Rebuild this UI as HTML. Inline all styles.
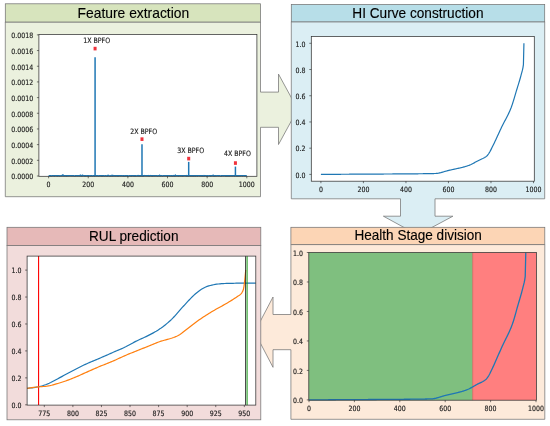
<!DOCTYPE html>
<html lang="en"><head><meta charset="utf-8"><title>Framework</title>
<style>
html,body{margin:0;padding:0;background:#fff;}
body{width:550px;height:426px;overflow:hidden;}
svg{display:block;}
.t{font-family:"Liberation Sans","DejaVu Sans",sans-serif;fill:#000;stroke:#000;stroke-width:0.12;}
.k{font-family:"DejaVu Sans","Liberation Sans",sans-serif;fill:#1a1a1a;stroke:#1a1a1a;stroke-width:0.15;}
.sp{fill:none;stroke:#333;stroke-width:0.75;}
.tk{stroke:#222;stroke-width:0.6;fill:none;}
</style></head><body>
<svg width="550" height="426" viewBox="0 0 550 426">
<rect width="550" height="426" fill="#fff"/>

<path d="M5.3 22 L260.5 22 L260.5 92.1 L278.5 92.1 L278.5 74.1 L297.7 109.3 L278.5 144.5 L278.5 127.3 L260.5 127.3 L260.5 196.7 L5.3 196.7 Z" fill="#EBF1DE" stroke="#747474" stroke-width="0.75" stroke-linejoin="miter"/>
<rect x="5.3" y="3.8" width="255.2" height="18.2" fill="#D7E4BD" stroke="#747474" stroke-width="0.75"/>
<text class="t" x="77.6" y="18.3" font-size="14.2" textLength="111.6" lengthAdjust="spacingAndGlyphs">Feature extraction</text>
<rect x="38.9" y="34.4" width="218" height="141.9" fill="#fff"/>
<path d="M48.6 175.59 L49 175.75 L49.39 175.79 L49.79 175.58 L50.19 175.77 L50.58 175.76 L50.98 175.79 L51.37 175.73 L51.77 175.79 L52.17 175.74 L52.56 175.65 L52.96 175.7 L53.36 175.7 L53.75 175.6 L54.15 175.79 L54.55 175.75 L54.94 175.74 L55.34 175.62 L55.74 175.68 L56.13 175.67 L56.53 175.66 L56.92 175.78 L57.32 175.63 L57.72 175.77 L58.11 175.68 L58.51 175.72 L58.91 175.73 L59.3 175.78 L59.7 175.71 L60.1 175.77 L60.49 175.71 L60.89 175.57 L61.28 175.65 L61.68 175.73 L62.08 175.71 L62.47 174.89 L62.87 175.69 L63.27 175.05 L63.66 175.67 L64.06 175.78 L64.46 175.61 L64.85 175.72 L65.25 175.76 L65.65 175.6 L66.04 175.73 L66.44 175.73 L66.83 175.7 L67.23 175.8 L67.63 175.54 L68.02 175.77 L68.42 175.68 L68.82 175.7 L69.21 175.67 L69.61 175.67 L70.01 175.63 L70.4 175.67 L70.8 175.7 L71.19 175.58 L71.59 175.73 L71.99 175.57 L72.38 175.68 L72.78 175.64 L73.18 175.78 L73.57 175.59 L73.97 175.72 L74.37 175.78 L74.76 175.78 L75.16 175.67 L75.56 175.75 L75.95 175.57 L76.35 175.68 L76.74 175.69 L77.14 175.78 L77.54 175.59 L77.93 175.74 L78.33 175.72 L78.73 175.72 L79.12 175.77 L79.52 175.64 L79.92 175.64 L80.31 175.01 L80.71 175.77 L81.1 175.73 L81.5 175.7 L81.9 175.78 L82.29 175.04 L82.69 175.8 L83.09 175.7 L83.48 175.46 L83.88 175.69 L84.28 175.73 L84.67 175.74 L85.07 175.69 L85.47 175.76 L85.86 175.73 L86.26 175.79 L86.65 175.72 L87.05 175.7 L87.45 175.76 L87.84 175.55 L88.24 175.7 L88.64 175.65 L89.03 175.79 L89.43 175.73 L89.83 175.65 L90.22 175.78 L90.62 175.74 L91.01 175.71 L91.41 175.72 L91.81 175.76 L92.2 175.74 L92.6 175.78 L93 175.75 L93.39 175.71 L93.79 175.72 L94.19 175.74 L94.58 175.7 L94.98 175.74 L95.38 175.7 L95.77 175.64 L96.17 175.72 L96.56 175.75 L96.96 175.71 L97.36 175.59 L97.75 175.77 L98.15 175.77 L98.55 175.79 L98.94 175.77 L99.34 175.72 L99.74 175.71 L100.13 175.78 L100.53 175.58 L100.92 175.7 L101.32 175.74 L101.72 175.73 L102.11 175.74 L102.51 175.75 L102.91 175.7 L103.3 175.74 L103.7 175.6 L104.1 175.69 L104.49 175.79 L104.89 175.78 L105.29 175.65 L105.68 175.72 L106.08 175.71 L106.47 175.75 L106.87 175.78 L107.27 175.7 L107.66 175.74 L108.06 175.07 L108.46 175.67 L108.85 175.66 L109.25 175.79 L109.65 175.8 L110.04 175.75 L110.44 175.71 L110.83 175.8 L111.23 175.78 L111.63 175.68 L112.02 175.08 L112.42 175.79 L112.82 175.77 L113.21 175.65 L113.61 175.49 L114.01 175.79 L114.4 175.63 L114.8 175.63 L115.2 175.67 L115.59 175.76 L115.99 175.7 L116.38 175.72 L116.78 175.75 L117.18 175.74 L117.57 175.78 L117.97 175.61 L118.37 175.65 L118.76 175.78 L119.16 175.68 L119.56 175.73 L119.95 175.6 L120.35 175.72 L120.74 175.74 L121.14 175.79 L121.54 175.56 L121.93 175.69 L122.33 175.68 L122.73 175.77 L123.12 175.72 L123.52 175.73 L123.92 175.73 L124.31 175.62 L124.71 175.78 L125.11 175.77 L125.5 175.75 L125.9 175.71 L126.29 175.57 L126.69 175.66 L127.09 175.79 L127.48 175.74 L127.88 175.76 L128.28 175.78 L128.67 175.8 L129.07 175.74 L129.47 175.71 L129.86 175.64 L130.26 175.67 L130.65 175.79 L131.05 175.75 L131.45 175.75 L131.84 175.73 L132.24 175.58 L132.64 175.75 L133.03 175.57 L133.43 175.76 L133.83 175.77 L134.22 175.67 L134.62 175.8 L135.02 175.75 L135.41 175.77 L135.81 175.74 L136.2 175.78 L136.6 175.72 L137 175.61 L137.39 175.78 L137.79 175.6 L138.19 175.48 L138.58 175.8 L138.98 175.73 L139.38 175.77 L139.77 175.67 L140.17 175.72 L140.56 175.77 L140.96 175.75 L141.36 175.47 L141.75 175.77 L142.15 175.76 L142.55 175.75 L142.94 175.78 L143.34 175.65 L143.74 175.78 L144.13 175.51 L144.53 175.67 L144.93 175.72 L145.32 175.67 L145.72 175.58 L146.11 175.73 L146.51 175.56 L146.91 175.67 L147.3 175.78 L147.7 175.6 L148.1 175.52 L148.49 175.73 L148.89 175.77 L149.29 175.69 L149.68 175.78 L150.08 175.72 L150.47 175.72 L150.87 175.48 L151.27 175.73 L151.66 175.79 L152.06 175.65 L152.46 175.77 L152.85 175.7 L153.25 175.76 L153.65 175.61 L154.04 175.63 L154.44 175.71 L154.84 175.79 L155.23 175.66 L155.63 175.67 L156.02 175.7 L156.42 175.61 L156.82 175.74 L157.21 175.72 L157.61 175.79 L158.01 175.69 L158.4 175.58 L158.8 175.79 L159.2 175.73 L159.59 175.14 L159.99 175.79 L160.38 175.73 L160.78 175.7 L161.18 175.58 L161.57 175.53 L161.97 175.78 L162.37 175.8 L162.76 175.77 L163.16 175.65 L163.56 175.58 L163.95 175.66 L164.35 175.73 L164.75 175.68 L165.14 175.67 L165.54 175.61 L165.93 175.76 L166.33 175.66 L166.73 175.62 L167.12 175.69 L167.52 175.68 L167.92 175.68 L168.31 175.73 L168.71 175.64 L169.11 175.7 L169.5 175.62 L169.9 175.79 L170.29 175.76 L170.69 175.72 L171.09 175.61 L171.48 175.77 L171.88 175.75 L172.28 175.7 L172.67 175.8 L173.07 175.78 L173.47 175.53 L173.86 175.77 L174.26 175.59 L174.66 175.8 L175.05 175.63 L175.45 174.94 L175.84 175.76 L176.24 175.7 L176.64 175.69 L177.03 175.64 L177.43 175.53 L177.83 175.76 L178.22 175.69 L178.62 175.79 L179.02 175.71 L179.41 175.69 L179.81 175.62 L180.2 175.77 L180.6 175.57 L181 175.73 L181.39 175.56 L181.79 175.77 L182.19 175.75 L182.58 175.75 L182.98 175.7 L183.38 175.79 L183.77 175.54 L184.17 175.7 L184.57 175.61 L184.96 175.65 L185.36 175.62 L185.75 175.76 L186.15 175.45 L186.55 175.77 L186.94 175.79 L187.34 175.68 L187.74 175.76 L188.13 175.78 L188.53 175.69 L188.93 175.79 L189.32 175.77 L189.72 175.57 L190.11 175.66 L190.51 175.74 L190.91 175.77 L191.3 175.8 L191.7 175.62 L192.1 175.7 L192.49 175.77 L192.89 175.77 L193.29 175.77 L193.68 175.74 L194.08 175.73 L194.48 175.63 L194.87 175.76 L195.27 175.67 L195.66 175.8 L196.06 175.62 L196.46 175.64 L196.85 175.74 L197.25 175.75 L197.65 175.77 L198.04 175.66 L198.44 175.67 L198.84 175.64 L199.23 175.68 L199.63 175.77 L200.02 175.58 L200.42 175.79 L200.82 175.65 L201.21 175.67 L201.61 175.76 L202.01 175.76 L202.4 175.73 L202.8 175.74 L203.2 175.8 L203.59 175.77 L203.99 175.49 L204.39 175.75 L204.78 175.79 L205.18 175.67 L205.57 175.56 L205.97 175.72 L206.37 175.79 L206.76 175.69 L207.16 175.79 L207.56 175.71 L207.95 175.65 L208.35 175.7 L208.75 175.77 L209.14 175.7 L209.54 175.58 L209.93 175.77 L210.33 175.74 L210.73 175.72 L211.12 175.76 L211.52 175.72 L211.92 175.7 L212.31 175.67 L212.71 175.71 L213.11 175.03 L213.5 175.75 L213.9 175.76 L214.3 175.75 L214.69 175.79 L215.09 175.66 L215.48 175.8 L215.88 175.58 L216.28 175.77 L216.67 175.72 L217.07 175.62 L217.47 175.71 L217.86 175.69 L218.26 175.6 L218.66 175.74 L219.05 175.68 L219.45 175.66 L219.84 175.66 L220.24 175.8 L220.64 175.79 L221.03 175.78 L221.43 175.61 L221.83 175.76 L222.22 175.68 L222.62 175.65 L223.02 175.58 L223.41 175.76 L223.81 175.58 L224.21 175.72 L224.6 175.64 L225 175.71 L225.39 175.76 L225.79 175.74 L226.19 175.79 L226.58 175.66 L226.98 175.77 L227.38 175.77 L227.77 175.69 L228.17 175.77 L228.57 175.75 L228.96 175.65 L229.36 175.75 L229.75 175.73 L230.15 175.74 L230.55 175.63 L230.94 175.73 L231.34 175.58 L231.74 175.69 L232.13 175.8 L232.53 175.67 L232.93 175.73 L233.32 175.62 L233.72 175.69 L234.12 175.73 L234.51 175.8 L234.91 175.7 L235.3 175.71 L235.7 175.69 L236.1 175.69 L236.49 175.76 L236.89 175.73 L237.29 175.74 L237.68 175.78 L238.08 175.64 L238.48 175.79 L238.87 175.69 L239.27 175.7 L239.66 175.73 L240.06 175.71 L240.46 175.76 L240.85 175.59 L241.25 175.69 L241.65 175.66 L242.04 175.63 L242.44 175.78 L242.84 175.66 L243.23 175.67 L243.63 175.59 L244.03 175.76 L244.42 175.67 L244.82 175.64 L245.21 175.77 L245.61 175.72 L246.01 175.7 L246.4 175.57 L246.8 175.59" fill="none" stroke="#1f77b4" stroke-width="1.3" stroke-linejoin="round" stroke-linecap="butt"/>
<path d="M95.08 176 L95.08 57.22" fill="none" stroke="#1f77b4" stroke-width="1.5" stroke-linejoin="round" stroke-linecap="butt"/>
<rect x="93.58" y="46.8" width="3" height="3.6" fill="#f0323c"/>
<path d="M141.99 176 L141.99 144.17" fill="none" stroke="#1f77b4" stroke-width="1.5" stroke-linejoin="round" stroke-linecap="butt"/>
<rect x="140.49" y="137.35" width="3" height="3.6" fill="#f0323c"/>
<path d="M188.69 176 L188.69 161.89" fill="none" stroke="#1f77b4" stroke-width="1.5" stroke-linejoin="round" stroke-linecap="butt"/>
<rect x="187.19" y="156.8" width="3" height="3.6" fill="#f0323c"/>
<path d="M235.42 176 L235.42 166.59" fill="none" stroke="#1f77b4" stroke-width="1.5" stroke-linejoin="round" stroke-linecap="butt"/>
<rect x="233.92" y="161.26" width="3" height="3.6" fill="#f0323c"/>
<text class="k" transform="translate(96.7 43.3) scale(0.85 1)" font-size="7.4" text-anchor="middle">1X BPFO</text>
<text class="k" transform="translate(143.7 133.5) scale(0.85 1)" font-size="7.4" text-anchor="middle">2X BPFO</text>
<text class="k" transform="translate(190.7 152.5) scale(0.85 1)" font-size="7.4" text-anchor="middle">3X BPFO</text>
<text class="k" transform="translate(237.4 156.1) scale(0.85 1)" font-size="7.4" text-anchor="middle">4X BPFO</text>
<rect class="sp" x="38.9" y="34.4" width="218" height="141.9"/>
<path class="tk" d="M48.6 176.3 v2"/>
<text class="k" transform="translate(48.6 186.7) scale(0.85 1)" font-size="7.4" text-anchor="middle">0</text>
<path class="tk" d="M88.24 176.3 v2"/>
<text class="k" transform="translate(88.24 186.7) scale(0.85 1)" font-size="7.4" text-anchor="middle">200</text>
<path class="tk" d="M127.88 176.3 v2"/>
<text class="k" transform="translate(127.88 186.7) scale(0.85 1)" font-size="7.4" text-anchor="middle">400</text>
<path class="tk" d="M167.52 176.3 v2"/>
<text class="k" transform="translate(167.52 186.7) scale(0.85 1)" font-size="7.4" text-anchor="middle">600</text>
<path class="tk" d="M207.16 176.3 v2"/>
<text class="k" transform="translate(207.16 186.7) scale(0.85 1)" font-size="7.4" text-anchor="middle">800</text>
<path class="tk" d="M246.8 176.3 v2"/>
<text class="k" transform="translate(246.8 186.7) scale(0.85 1)" font-size="7.4" text-anchor="middle">1000</text>
<path class="tk" d="M38.9 176 h-2"/>
<text class="k" transform="translate(33.2 179.3) scale(0.85 1)" font-size="7.4" text-anchor="end">0.0000</text>
<path class="tk" d="M38.9 160.32 h-2"/>
<text class="k" transform="translate(33.2 163.62) scale(0.85 1)" font-size="7.4" text-anchor="end">0.0002</text>
<path class="tk" d="M38.9 144.64 h-2"/>
<text class="k" transform="translate(33.2 147.94) scale(0.85 1)" font-size="7.4" text-anchor="end">0.0004</text>
<path class="tk" d="M38.9 128.96 h-2"/>
<text class="k" transform="translate(33.2 132.26) scale(0.85 1)" font-size="7.4" text-anchor="end">0.0006</text>
<path class="tk" d="M38.9 113.28 h-2"/>
<text class="k" transform="translate(33.2 116.58) scale(0.85 1)" font-size="7.4" text-anchor="end">0.0008</text>
<path class="tk" d="M38.9 97.6 h-2"/>
<text class="k" transform="translate(33.2 100.9) scale(0.85 1)" font-size="7.4" text-anchor="end">0.0010</text>
<path class="tk" d="M38.9 81.92 h-2"/>
<text class="k" transform="translate(33.2 85.22) scale(0.85 1)" font-size="7.4" text-anchor="end">0.0012</text>
<path class="tk" d="M38.9 66.24 h-2"/>
<text class="k" transform="translate(33.2 69.54) scale(0.85 1)" font-size="7.4" text-anchor="end">0.0014</text>
<path class="tk" d="M38.9 50.56 h-2"/>
<text class="k" transform="translate(33.2 53.86) scale(0.85 1)" font-size="7.4" text-anchor="end">0.0016</text>
<path class="tk" d="M38.9 34.88 h-2"/>
<text class="k" transform="translate(33.2 38.18) scale(0.85 1)" font-size="7.4" text-anchor="end">0.0018</text>
<path d="M291.3 21.8 L544.7 21.8 L544.7 198.8 L435 198.8 L435 216.2 L452.9 216.2 L417.8 235 L383.4 216.2 L400.5 216.2 L400.5 198.8 L291.3 198.8 Z" fill="#DBEEF4" stroke="#747474" stroke-width="0.75" stroke-linejoin="miter"/>
<rect x="291.3" y="4.5" width="253.4" height="17.3" fill="#B7DEE8" stroke="#747474" stroke-width="0.75"/>
<text class="t" x="352.3" y="18.3" font-size="14.2" textLength="131.2" lengthAdjust="spacingAndGlyphs">HI Curve construction</text>
<rect x="311.3" y="36.5" width="223" height="144.7" fill="#fff"/>
<path d="M320.9 174.4 L321.41 174.4 L321.92 174.39 L322.43 174.39 L322.94 174.39 L323.44 174.38 L323.95 174.38 L324.46 174.38 L324.97 174.37 L325.48 174.37 L325.99 174.37 L326.5 174.37 L327.01 174.36 L327.52 174.36 L328.02 174.36 L328.53 174.35 L329.04 174.35 L329.55 174.35 L330.06 174.34 L330.57 174.34 L331.08 174.34 L331.59 174.33 L332.09 174.33 L332.6 174.33 L333.11 174.32 L333.62 174.32 L334.13 174.32 L334.64 174.32 L335.15 174.31 L335.66 174.31 L336.17 174.31 L336.67 174.3 L337.18 174.3 L337.69 174.3 L338.2 174.29 L338.71 174.29 L339.22 174.29 L339.73 174.28 L340.24 174.28 L340.75 174.28 L341.25 174.27 L341.76 174.27 L342.27 174.27 L342.78 174.27 L343.29 174.26 L343.8 174.26 L344.31 174.26 L344.82 174.25 L345.33 174.25 L345.83 174.25 L346.34 174.24 L346.85 174.24 L347.36 174.24 L347.87 174.23 L348.38 174.23 L348.89 174.23 L349.4 174.22 L349.9 174.22 L350.41 174.22 L350.92 174.21 L351.43 174.21 L351.94 174.21 L352.45 174.21 L352.96 174.2 L353.47 174.2 L353.98 174.2 L354.48 174.19 L354.99 174.19 L355.5 174.19 L356.01 174.18 L356.52 174.18 L357.03 174.18 L357.54 174.17 L358.05 174.17 L358.56 174.17 L359.06 174.16 L359.57 174.16 L360.08 174.16 L360.59 174.16 L361.1 174.15 L361.61 174.15 L362.12 174.15 L362.63 174.14 L363.13 174.14 L363.64 174.14 L364.15 174.13 L364.66 174.13 L365.17 174.13 L365.68 174.12 L366.19 174.12 L366.7 174.12 L367.21 174.12 L367.71 174.11 L368.22 174.11 L368.73 174.11 L369.24 174.1 L369.75 174.1 L370.26 174.1 L370.77 174.1 L371.28 174.09 L371.79 174.09 L372.29 174.09 L372.8 174.08 L373.31 174.08 L373.82 174.08 L374.33 174.08 L374.84 174.07 L375.35 174.07 L375.86 174.07 L376.37 174.06 L376.87 174.06 L377.38 174.06 L377.89 174.06 L378.4 174.05 L378.91 174.05 L379.42 174.05 L379.93 174.05 L380.44 174.04 L380.94 174.04 L381.45 174.04 L381.96 174.03 L382.47 174.03 L382.98 174.03 L383.49 174.03 L384 174.02 L384.51 174.02 L385.02 174.02 L385.52 174.02 L386.03 174.01 L386.54 174.01 L387.05 174.01 L387.56 174 L388.07 174 L388.58 174 L389.09 173.99 L389.6 173.99 L390.1 173.99 L390.61 173.99 L391.12 173.98 L391.63 173.98 L392.14 173.98 L392.65 173.97 L393.16 173.97 L393.67 173.97 L394.18 173.96 L394.68 173.96 L395.19 173.96 L395.7 173.95 L396.21 173.95 L396.72 173.95 L397.23 173.94 L397.74 173.94 L398.25 173.94 L398.75 173.93 L399.26 173.93 L399.77 173.92 L400.28 173.92 L400.79 173.92 L401.3 173.91 L401.81 173.91 L402.32 173.91 L402.83 173.9 L403.33 173.9 L403.84 173.89 L404.35 173.89 L404.86 173.88 L405.37 173.88 L405.88 173.88 L406.39 173.87 L406.9 173.87 L407.41 173.86 L407.91 173.86 L408.42 173.86 L408.93 173.85 L409.44 173.85 L409.95 173.84 L410.46 173.84 L410.97 173.84 L411.48 173.83 L411.98 173.83 L412.49 173.82 L413 173.82 L413.51 173.82 L414.02 173.81 L414.53 173.81 L415.04 173.8 L415.55 173.8 L416.06 173.8 L416.56 173.79 L417.07 173.79 L417.58 173.78 L418.09 173.78 L418.6 173.77 L419.11 173.77 L419.62 173.76 L420.13 173.76 L420.64 173.75 L421.14 173.75 L421.65 173.74 L422.16 173.74 L422.67 173.73 L423.18 173.72 L423.69 173.72 L424.2 173.71 L424.71 173.7 L425.22 173.7 L425.72 173.69 L426.23 173.68 L426.74 173.67 L427.25 173.66 L427.76 173.66 L428.27 173.65 L428.78 173.64 L429.29 173.63 L429.79 173.62 L430.3 173.61 L430.81 173.6 L431.32 173.59 L431.83 173.58 L432.34 173.56 L432.85 173.55 L433.36 173.54 L433.87 173.53 L434.37 173.51 L434.88 173.5 L435.39 173.49 L435.9 173.47 L436.41 173.43 L436.92 173.38 L437.43 173.32 L437.94 173.24 L438.45 173.16 L438.95 173.06 L439.46 172.95 L439.97 172.84 L440.48 172.71 L440.99 172.58 L441.5 172.45 L442.01 172.31 L442.52 172.16 L443.03 172.01 L443.53 171.86 L444.04 171.71 L444.55 171.55 L445.06 171.4 L445.57 171.25 L446.08 171.1 L446.59 170.96 L447.1 170.82 L447.6 170.68 L448.11 170.55 L448.62 170.43 L449.13 170.31 L449.64 170.19 L450.15 170.08 L450.66 169.96 L451.17 169.85 L451.68 169.74 L452.18 169.63 L452.69 169.52 L453.2 169.41 L453.71 169.3 L454.22 169.19 L454.73 169.08 L455.24 168.97 L455.75 168.86 L456.26 168.75 L456.76 168.64 L457.27 168.53 L457.78 168.42 L458.29 168.31 L458.8 168.2 L459.31 168.08 L459.82 167.96 L460.33 167.84 L460.84 167.72 L461.34 167.6 L461.85 167.47 L462.36 167.34 L462.87 167.21 L463.38 167.08 L463.89 166.94 L464.4 166.8 L464.91 166.66 L465.41 166.51 L465.92 166.36 L466.43 166.2 L466.94 166.04 L467.45 165.88 L467.96 165.71 L468.47 165.53 L468.98 165.35 L469.49 165.14 L469.99 164.93 L470.5 164.7 L471.01 164.47 L471.52 164.22 L472.03 163.97 L472.54 163.71 L473.05 163.44 L473.56 163.17 L474.07 162.9 L474.57 162.62 L475.08 162.34 L475.59 162.06 L476.1 161.78 L476.61 161.5 L477.12 161.22 L477.63 160.95 L478.14 160.68 L478.64 160.42 L479.15 160.17 L479.66 159.93 L480.17 159.7 L480.68 159.47 L481.19 159.25 L481.7 159.02 L482.21 158.78 L482.72 158.54 L483.22 158.29 L483.73 158.02 L484.24 157.74 L484.75 157.44 L485.26 157.12 L485.77 156.77 L486.28 156.4 L486.79 156 L487.3 155.5 L487.8 154.89 L488.31 154.2 L488.82 153.47 L489.33 152.68 L489.84 151.81 L490.35 150.86 L490.86 149.87 L491.37 148.86 L491.88 147.85 L492.38 146.85 L492.89 145.84 L493.4 144.8 L493.91 143.75 L494.42 142.69 L494.93 141.61 L495.44 140.53 L495.95 139.43 L496.45 138.33 L496.96 137.23 L497.47 136.12 L497.98 135.01 L498.49 133.9 L499 132.79 L499.51 131.69 L500.02 130.59 L500.53 129.5 L501.03 128.41 L501.54 127.34 L502.05 126.29 L502.56 125.27 L503.07 124.26 L503.58 123.28 L504.09 122.3 L504.6 121.34 L505.11 120.38 L505.61 119.42 L506.12 118.45 L506.63 117.47 L507.14 116.48 L507.65 115.47 L508.16 114.43 L508.67 113.37 L509.18 112.27 L509.69 111.13 L510.19 109.95 L510.7 108.73 L511.21 107.45 L511.72 106.08 L512.23 104.62 L512.74 103.06 L513.25 101.44 L513.76 99.76 L514.26 98.05 L514.77 96.31 L515.28 94.57 L515.79 92.84 L516.3 91.13 L516.81 89.46 L517.32 87.82 L517.83 86.19 L518.34 84.56 L518.84 82.91 L519.35 81.23 L519.86 79.5 L520.37 77.72 L520.88 75.86 L521.39 73.94 L521.9 72.11 L522.41 70.15 L522.92 67.79 L523.42 64.59 L523.93 43.3" fill="none" stroke="#1f77b4" stroke-width="1.2" stroke-linejoin="round" stroke-linecap="butt"/>
<rect class="sp" x="311.3" y="36.5" width="223" height="144.7"/>
<path class="tk" d="M320.9 181.2 v2"/>
<text class="k" transform="translate(320.9 191.6) scale(0.85 1)" font-size="7.4" text-anchor="middle">0</text>
<path class="tk" d="M363.42 181.2 v2"/>
<text class="k" transform="translate(363.42 191.6) scale(0.85 1)" font-size="7.4" text-anchor="middle">200</text>
<path class="tk" d="M405.94 181.2 v2"/>
<text class="k" transform="translate(405.94 191.6) scale(0.85 1)" font-size="7.4" text-anchor="middle">400</text>
<path class="tk" d="M448.46 181.2 v2"/>
<text class="k" transform="translate(448.46 191.6) scale(0.85 1)" font-size="7.4" text-anchor="middle">600</text>
<path class="tk" d="M490.98 181.2 v2"/>
<text class="k" transform="translate(490.98 191.6) scale(0.85 1)" font-size="7.4" text-anchor="middle">800</text>
<path class="tk" d="M533.5 181.2 v2"/>
<text class="k" transform="translate(533.5 191.6) scale(0.85 1)" font-size="7.4" text-anchor="middle">1000</text>
<path class="tk" d="M311.3 174.4 h-2"/>
<text class="k" transform="translate(305.6 177.7) scale(0.85 1)" font-size="7.4" text-anchor="end">0.0</text>
<path class="tk" d="M311.3 148.18 h-2"/>
<text class="k" transform="translate(305.6 151.48) scale(0.85 1)" font-size="7.4" text-anchor="end">0.2</text>
<path class="tk" d="M311.3 121.96 h-2"/>
<text class="k" transform="translate(305.6 125.26) scale(0.85 1)" font-size="7.4" text-anchor="end">0.4</text>
<path class="tk" d="M311.3 95.74 h-2"/>
<text class="k" transform="translate(305.6 99.04) scale(0.85 1)" font-size="7.4" text-anchor="end">0.6</text>
<path class="tk" d="M311.3 69.52 h-2"/>
<text class="k" transform="translate(305.6 72.82) scale(0.85 1)" font-size="7.4" text-anchor="end">0.8</text>
<path class="tk" d="M311.3 43.3 h-2"/>
<text class="k" transform="translate(305.6 46.6) scale(0.85 1)" font-size="7.4" text-anchor="end">1.0</text>
<path d="M290.9 244.6 L544.8 244.6 L544.8 419.3 L290.9 419.3 L290.9 349.7 L273 349.7 L273 367.3 L254.6 332.1 L273 297 L273 314.5 L290.9 314.5 Z" fill="#FDEADA" stroke="#747474" stroke-width="0.75" stroke-linejoin="miter"/>
<rect x="290.9" y="227.3" width="253.9" height="17.3" fill="#FCD5B5" stroke="#747474" stroke-width="0.75"/>
<text class="t" x="354.4" y="240.4" font-size="14.2" textLength="127.5" lengthAdjust="spacingAndGlyphs">Health Stage division</text>
<rect x="308.8" y="252.5" width="163.87" height="147.7" fill="#7fbf7f"/>
<rect x="472.67" y="252.5" width="63.73" height="147.7" fill="#ff7f7f"/>
<path d="M472.67 252.5 V400.2" stroke="#c04040" stroke-width="0.5" fill="none"/>
<clipPath id="c4"><rect x="308.8" y="252.5" width="227.6" height="148.3"/></clipPath>
<g clip-path="url(#c4)">
<path d="M309 399.9 L309.54 399.9 L310.09 399.89 L310.63 399.89 L311.17 399.89 L311.72 399.88 L312.26 399.88 L312.8 399.88 L313.35 399.87 L313.89 399.87 L314.43 399.86 L314.98 399.86 L315.52 399.86 L316.06 399.85 L316.61 399.85 L317.15 399.85 L317.69 399.84 L318.24 399.84 L318.78 399.84 L319.32 399.83 L319.87 399.83 L320.41 399.83 L320.95 399.82 L321.5 399.82 L322.04 399.82 L322.58 399.81 L323.13 399.81 L323.67 399.8 L324.21 399.8 L324.76 399.8 L325.3 399.79 L325.84 399.79 L326.39 399.79 L326.93 399.78 L327.47 399.78 L328.02 399.78 L328.56 399.77 L329.1 399.77 L329.65 399.77 L330.19 399.76 L330.73 399.76 L331.28 399.76 L331.82 399.75 L332.36 399.75 L332.91 399.74 L333.45 399.74 L333.99 399.74 L334.54 399.73 L335.08 399.73 L335.62 399.73 L336.17 399.72 L336.71 399.72 L337.25 399.72 L337.8 399.71 L338.34 399.71 L338.88 399.71 L339.43 399.7 L339.97 399.7 L340.51 399.7 L341.06 399.69 L341.6 399.69 L342.14 399.68 L342.69 399.68 L343.23 399.68 L343.77 399.67 L344.32 399.67 L344.86 399.67 L345.4 399.66 L345.95 399.66 L346.49 399.66 L347.03 399.65 L347.58 399.65 L348.12 399.65 L348.66 399.64 L349.21 399.64 L349.75 399.64 L350.29 399.63 L350.84 399.63 L351.38 399.62 L351.92 399.62 L352.47 399.62 L353.01 399.61 L353.55 399.61 L354.1 399.61 L354.64 399.6 L355.18 399.6 L355.73 399.6 L356.27 399.59 L356.81 399.59 L357.36 399.59 L357.9 399.58 L358.44 399.58 L358.99 399.58 L359.53 399.57 L360.07 399.57 L360.62 399.57 L361.16 399.56 L361.7 399.56 L362.25 399.56 L362.79 399.55 L363.33 399.55 L363.88 399.55 L364.42 399.54 L364.96 399.54 L365.51 399.54 L366.05 399.54 L366.59 399.53 L367.14 399.53 L367.68 399.53 L368.22 399.52 L368.77 399.52 L369.31 399.52 L369.85 399.51 L370.4 399.51 L370.94 399.51 L371.48 399.5 L372.03 399.5 L372.57 399.5 L373.11 399.5 L373.66 399.49 L374.2 399.49 L374.74 399.49 L375.29 399.48 L375.83 399.48 L376.37 399.48 L376.92 399.47 L377.46 399.47 L378 399.47 L378.55 399.46 L379.09 399.46 L379.63 399.46 L380.18 399.45 L380.72 399.45 L381.26 399.45 L381.8 399.44 L382.35 399.44 L382.89 399.44 L383.43 399.43 L383.98 399.43 L384.52 399.43 L385.06 399.42 L385.61 399.42 L386.15 399.42 L386.69 399.41 L387.24 399.41 L387.78 399.41 L388.32 399.4 L388.87 399.4 L389.41 399.39 L389.95 399.39 L390.5 399.39 L391.04 399.38 L391.58 399.38 L392.13 399.37 L392.67 399.37 L393.21 399.37 L393.76 399.36 L394.3 399.36 L394.84 399.35 L395.39 399.35 L395.93 399.34 L396.47 399.34 L397.02 399.33 L397.56 399.33 L398.1 399.33 L398.65 399.32 L399.19 399.32 L399.73 399.31 L400.28 399.31 L400.82 399.3 L401.36 399.3 L401.91 399.29 L402.45 399.29 L402.99 399.28 L403.54 399.28 L404.08 399.27 L404.62 399.27 L405.17 399.27 L405.71 399.26 L406.25 399.26 L406.8 399.25 L407.34 399.25 L407.88 399.24 L408.43 399.24 L408.97 399.23 L409.51 399.23 L410.06 399.23 L410.6 399.22 L411.14 399.22 L411.69 399.21 L412.23 399.21 L412.77 399.2 L413.32 399.2 L413.86 399.19 L414.4 399.18 L414.95 399.18 L415.49 399.17 L416.03 399.17 L416.58 399.16 L417.12 399.15 L417.66 399.15 L418.21 399.14 L418.75 399.13 L419.29 399.12 L419.84 399.12 L420.38 399.11 L420.92 399.1 L421.47 399.09 L422.01 399.08 L422.55 399.07 L423.1 399.06 L423.64 399.05 L424.18 399.04 L424.73 399.03 L425.27 399.02 L425.81 399.01 L426.36 399 L426.9 398.99 L427.44 398.97 L427.99 398.96 L428.53 398.95 L429.07 398.93 L429.62 398.92 L430.16 398.9 L430.7 398.89 L431.25 398.87 L431.79 398.85 L432.33 398.81 L432.88 398.76 L433.42 398.69 L433.96 398.6 L434.51 398.5 L435.05 398.39 L435.59 398.27 L436.14 398.14 L436.68 398 L437.22 397.86 L437.77 397.7 L438.31 397.55 L438.85 397.38 L439.4 397.21 L439.94 397.04 L440.48 396.87 L441.03 396.7 L441.57 396.53 L442.11 396.36 L442.66 396.19 L443.2 396.03 L443.74 395.87 L444.29 395.72 L444.83 395.57 L445.37 395.43 L445.92 395.3 L446.46 395.17 L447 395.04 L447.55 394.91 L448.09 394.78 L448.63 394.66 L449.18 394.53 L449.72 394.41 L450.26 394.29 L450.81 394.16 L451.35 394.04 L451.89 393.92 L452.44 393.8 L452.98 393.67 L453.52 393.55 L454.07 393.43 L454.61 393.3 L455.15 393.18 L455.7 393.05 L456.24 392.92 L456.78 392.79 L457.33 392.66 L457.87 392.53 L458.41 392.39 L458.96 392.25 L459.5 392.11 L460.04 391.97 L460.59 391.82 L461.13 391.67 L461.67 391.51 L462.22 391.36 L462.76 391.19 L463.3 391.03 L463.85 390.86 L464.39 390.68 L464.93 390.5 L465.48 390.32 L466.02 390.13 L466.56 389.93 L467.11 389.72 L467.65 389.49 L468.19 389.25 L468.74 389 L469.28 388.73 L469.82 388.46 L470.37 388.17 L470.91 387.88 L471.45 387.58 L472 387.27 L472.54 386.96 L473.08 386.65 L473.63 386.34 L474.17 386.02 L474.71 385.71 L475.26 385.39 L475.8 385.08 L476.34 384.78 L476.89 384.47 L477.43 384.18 L477.97 383.9 L478.52 383.64 L479.06 383.37 L479.6 383.12 L480.15 382.86 L480.69 382.6 L481.23 382.34 L481.78 382.07 L482.32 381.78 L482.86 381.49 L483.41 381.17 L483.95 380.83 L484.49 380.47 L485.04 380.08 L485.58 379.66 L486.12 379.21 L486.67 378.65 L487.21 377.96 L487.75 377.19 L488.3 376.37 L488.84 375.48 L489.38 374.5 L489.93 373.44 L490.47 372.33 L491.01 371.19 L491.56 370.05 L492.1 368.93 L492.64 367.78 L493.19 366.62 L493.73 365.44 L494.27 364.25 L494.82 363.04 L495.36 361.82 L495.9 360.59 L496.45 359.35 L496.99 358.1 L497.53 356.86 L498.08 355.61 L498.62 354.36 L499.16 353.12 L499.71 351.87 L500.25 350.64 L500.79 349.41 L501.34 348.2 L501.88 346.99 L502.42 345.81 L502.97 344.66 L503.51 343.53 L504.05 342.42 L504.6 341.33 L505.14 340.24 L505.68 339.16 L506.23 338.08 L506.77 336.99 L507.31 335.9 L507.86 334.78 L508.4 333.64 L508.94 332.48 L509.49 331.28 L510.03 330.05 L510.57 328.77 L511.12 327.44 L511.66 326.06 L512.2 324.63 L512.75 323.09 L513.29 321.44 L513.83 319.69 L514.38 317.87 L514.92 315.98 L515.46 314.06 L516.01 312.1 L516.55 310.14 L517.09 308.2 L517.64 306.28 L518.18 304.4 L518.72 302.55 L519.27 300.72 L519.81 298.89 L520.35 297.03 L520.9 295.15 L521.44 293.21 L521.98 291.2 L522.53 289.11 L523.07 286.95 L523.61 284.89 L524.16 282.69 L524.7 280.03 L525.24 276.44 L525.78 252.5" fill="none" stroke="#1f77b4" stroke-width="1.3" stroke-linejoin="round" stroke-linecap="butt"/>
</g>
<rect class="sp" x="308.8" y="252.5" width="227.6" height="147.7"/>
<path class="tk" d="M309 400.2 v2"/>
<text class="k" transform="translate(309 410.6) scale(0.85 1)" font-size="7.4" text-anchor="middle">0</text>
<path class="tk" d="M354.4 400.2 v2"/>
<text class="k" transform="translate(354.4 410.6) scale(0.85 1)" font-size="7.4" text-anchor="middle">200</text>
<path class="tk" d="M399.8 400.2 v2"/>
<text class="k" transform="translate(399.8 410.6) scale(0.85 1)" font-size="7.4" text-anchor="middle">400</text>
<path class="tk" d="M445.2 400.2 v2"/>
<text class="k" transform="translate(445.2 410.6) scale(0.85 1)" font-size="7.4" text-anchor="middle">600</text>
<path class="tk" d="M490.6 400.2 v2"/>
<text class="k" transform="translate(490.6 410.6) scale(0.85 1)" font-size="7.4" text-anchor="middle">800</text>
<path class="tk" d="M536 400.2 v2"/>
<text class="k" transform="translate(536 410.6) scale(0.85 1)" font-size="7.4" text-anchor="middle">1000</text>
<path class="tk" d="M308.8 399.9 h-2"/>
<text class="k" transform="translate(303.1 403.2) scale(0.85 1)" font-size="7.4" text-anchor="end">0.0</text>
<path class="tk" d="M308.8 370.42 h-2"/>
<text class="k" transform="translate(303.1 373.72) scale(0.85 1)" font-size="7.4" text-anchor="end">0.2</text>
<path class="tk" d="M308.8 340.94 h-2"/>
<text class="k" transform="translate(303.1 344.24) scale(0.85 1)" font-size="7.4" text-anchor="end">0.4</text>
<path class="tk" d="M308.8 311.46 h-2"/>
<text class="k" transform="translate(303.1 314.76) scale(0.85 1)" font-size="7.4" text-anchor="end">0.6</text>
<path class="tk" d="M308.8 281.98 h-2"/>
<text class="k" transform="translate(303.1 285.28) scale(0.85 1)" font-size="7.4" text-anchor="end">0.8</text>
<path class="tk" d="M308.8 252.5 h-2"/>
<text class="k" transform="translate(303.1 255.8) scale(0.85 1)" font-size="7.4" text-anchor="end">1.0</text>
<rect x="7" y="245.5" width="253.8" height="174.3" fill="#F2DCDB" stroke="#747474" stroke-width="0.75"/>
<rect x="7" y="227.3" width="253.8" height="18.2" fill="#E6B9B8" stroke="#747474" stroke-width="0.75"/>
<text class="t" x="89" y="240.5" font-size="14.2" textLength="89.5" lengthAdjust="spacingAndGlyphs">RUL prediction</text>
<rect x="27.1" y="256.1" width="228.7" height="149" fill="#fff"/>
<path d="M38.58 256.1 V405.1" stroke="#ff0000" stroke-width="1.1" fill="none"/>
<path d="M27.1 388.3 L28.74 388.18 L30.37 388.02 L31.99 387.81 L33.6 387.58 L35.21 387.31 L36.81 387.02 L38.4 386.72 L39.98 386.38 L41.57 385.97 L43.14 385.51 L44.69 385 L46.23 384.46 L47.73 383.88 L49.21 383.24 L50.68 382.54 L52.13 381.8 L53.58 381.03 L55.02 380.24 L56.45 379.45 L57.89 378.66 L59.33 377.89 L60.77 377.13 L62.21 376.36 L63.64 375.59 L65.07 374.81 L66.5 374.03 L67.93 373.25 L69.36 372.47 L70.8 371.7 L72.24 370.94 L73.69 370.19 L75.13 369.44 L76.58 368.69 L78.03 367.95 L79.49 367.21 L80.94 366.48 L82.41 365.76 L83.87 365.05 L85.35 364.36 L86.83 363.68 L88.32 363.02 L89.81 362.38 L91.31 361.75 L92.82 361.12 L94.33 360.5 L95.83 359.88 L97.34 359.25 L98.84 358.61 L100.33 357.97 L101.83 357.32 L103.32 356.66 L104.81 356.01 L106.3 355.35 L107.79 354.69 L109.28 354.03 L110.77 353.37 L112.26 352.72 L113.76 352.07 L115.26 351.42 L116.76 350.79 L118.26 350.15 L119.76 349.51 L121.25 348.86 L122.74 348.19 L124.22 347.51 L125.68 346.81 L127.13 346.07 L128.57 345.3 L129.99 344.5 L131.41 343.7 L132.84 342.91 L134.27 342.13 L135.72 341.39 L137.18 340.68 L138.66 339.99 L140.15 339.32 L141.64 338.65 L143.13 337.99 L144.61 337.31 L146.08 336.61 L147.53 335.88 L148.98 335.14 L150.44 334.39 L151.88 333.63 L153.32 332.85 L154.75 332.05 L156.16 331.24 L157.55 330.39 L158.91 329.52 L160.26 328.62 L161.59 327.68 L162.9 326.72 L164.2 325.72 L165.49 324.7 L166.76 323.66 L168 322.6 L169.23 321.53 L170.43 320.44 L171.61 319.33 L172.75 318.19 L173.87 317.01 L174.97 315.81 L176.05 314.59 L177.12 313.36 L178.19 312.11 L179.26 310.87 L180.33 309.64 L181.41 308.41 L182.51 307.21 L183.62 306.01 L184.72 304.81 L185.82 303.6 L186.92 302.39 L188.03 301.19 L189.14 299.99 L190.27 298.81 L191.41 297.65 L192.56 296.5 L193.74 295.39 L194.94 294.3 L196.17 293.22 L197.42 292.17 L198.71 291.16 L200.03 290.21 L201.39 289.33 L202.79 288.48 L204.23 287.68 L205.7 286.98 L207.2 286.41 L208.75 285.9 L210.33 285.46 L211.92 285.08 L213.51 284.75 L215.12 284.44 L216.73 284.17 L218.34 283.99 L219.96 283.84 L221.59 283.72 L223.22 283.61 L224.84 283.52 L226.47 283.45 L228.1 283.4 L229.73 283.35 L231.36 283.32 L232.99 283.28 L234.62 283.25 L236.25 283.22 L237.88 283.21 L239.51 283.2 L241.14 283.2 L242.77 283.2 L244.39 283.2 L246.02 283.2 L247.65 283.2 L249.28 283.2 L250.91 283.2 L252.54 283.2 L254.17 283.2 L255.8 283.2" fill="none" stroke="#1f77b4" stroke-width="1.2" stroke-linejoin="round" stroke-linecap="butt"/>
<path d="M27.1 388.3 L28.73 388.07 L30.35 387.85 L31.98 387.64 L33.61 387.44 L35.24 387.25 L36.87 387.07 L38.5 386.9 L40.14 386.75 L41.78 386.62 L43.42 386.5 L45.05 386.35 L46.67 386.16 L48.28 385.91 L49.89 385.6 L51.49 385.24 L53.09 384.83 L54.68 384.4 L56.27 383.95 L57.85 383.48 L59.42 383.02 L60.99 382.55 L62.55 382.05 L64.11 381.53 L65.66 380.98 L67.2 380.42 L68.74 379.84 L70.27 379.25 L71.8 378.65 L73.33 378.05 L74.84 377.43 L76.35 376.78 L77.85 376.12 L79.35 375.45 L80.85 374.78 L82.34 374.1 L83.84 373.42 L85.34 372.75 L86.84 372.09 L88.34 371.42 L89.84 370.75 L91.34 370.08 L92.84 369.42 L94.34 368.75 L95.84 368.09 L97.35 367.44 L98.86 366.8 L100.37 366.17 L101.9 365.56 L103.42 364.95 L104.95 364.35 L106.48 363.76 L108.01 363.16 L109.53 362.55 L111.05 361.93 L112.56 361.29 L114.06 360.63 L115.56 359.96 L117.05 359.27 L118.54 358.57 L120.02 357.88 L121.51 357.18 L123 356.5 L124.5 355.83 L126.01 355.18 L127.52 354.55 L129.04 353.92 L130.56 353.31 L132.08 352.7 L133.61 352.09 L135.13 351.48 L136.66 350.88 L138.18 350.27 L139.7 349.66 L141.23 349.04 L142.75 348.43 L144.27 347.82 L145.8 347.21 L147.32 346.6 L148.84 345.99 L150.37 345.38 L151.89 344.76 L153.41 344.14 L154.92 343.5 L156.44 342.87 L157.96 342.26 L159.5 341.7 L161.06 341.19 L162.63 340.72 L164.21 340.28 L165.8 339.85 L167.39 339.43 L168.98 338.99 L170.55 338.52 L172.1 338.01 L173.64 337.45 L175.18 336.85 L176.7 336.2 L178.18 335.5 L179.61 334.72 L180.96 333.83 L182.27 332.84 L183.55 331.8 L184.83 330.74 L186.13 329.73 L187.43 328.73 L188.73 327.73 L190.03 326.72 L191.32 325.71 L192.62 324.7 L193.92 323.7 L195.23 322.71 L196.55 321.73 L197.87 320.77 L199.21 319.82 L200.56 318.89 L201.92 317.97 L203.28 317.06 L204.66 316.16 L206.04 315.27 L207.43 314.39 L208.82 313.52 L210.22 312.66 L211.62 311.81 L213.03 310.97 L214.44 310.15 L215.87 309.34 L217.31 308.55 L218.75 307.76 L220.2 306.98 L221.64 306.19 L223.07 305.39 L224.5 304.58 L225.91 303.76 L227.33 302.92 L228.74 302.08 L230.15 301.24 L231.56 300.38 L232.95 299.51 L234.33 298.62 L235.69 297.71 L237.07 296.79 L238.49 295.87 L239.85 294.9 L241.02 293.82 L241.98 292.56 L242.81 291.09 L243.39 289.55 L243.73 287.98 L243.98 286.36 L244.19 284.71 L244.39 283.06 L244.59 281.43 L244.78 279.8 L244.96 278.17 L245.12 276.54 L245.28 274.91 L245.43 273.27 L245.57 271.64 L245.7 270" fill="none" stroke="#ff7f0e" stroke-width="1.2" stroke-linejoin="round" stroke-linecap="butt"/>
<path d="M245.6 256.1 V405.1" stroke="#222" stroke-width="0.9" fill="none"/>
<path d="M247.1 256.1 V405.1" stroke="#169a16" stroke-width="1.0" fill="none"/>
<rect class="sp" x="27.1" y="256.1" width="228.7" height="149"/>
<path class="tk" d="M44.3 405.1 v2"/>
<text class="k" transform="translate(44.3 415.5) scale(0.85 1)" font-size="7.4" text-anchor="middle">775</text>
<path class="tk" d="M72.88 405.1 v2"/>
<text class="k" transform="translate(72.88 415.5) scale(0.85 1)" font-size="7.4" text-anchor="middle">800</text>
<path class="tk" d="M101.45 405.1 v2"/>
<text class="k" transform="translate(101.45 415.5) scale(0.85 1)" font-size="7.4" text-anchor="middle">825</text>
<path class="tk" d="M130.02 405.1 v2"/>
<text class="k" transform="translate(130.02 415.5) scale(0.85 1)" font-size="7.4" text-anchor="middle">850</text>
<path class="tk" d="M158.6 405.1 v2"/>
<text class="k" transform="translate(158.6 415.5) scale(0.85 1)" font-size="7.4" text-anchor="middle">875</text>
<path class="tk" d="M187.18 405.1 v2"/>
<text class="k" transform="translate(187.18 415.5) scale(0.85 1)" font-size="7.4" text-anchor="middle">900</text>
<path class="tk" d="M215.75 405.1 v2"/>
<text class="k" transform="translate(215.75 415.5) scale(0.85 1)" font-size="7.4" text-anchor="middle">925</text>
<path class="tk" d="M244.32 405.1 v2"/>
<text class="k" transform="translate(244.32 415.5) scale(0.85 1)" font-size="7.4" text-anchor="middle">950</text>
<path class="tk" d="M27.1 404.8 h-2"/>
<text class="k" transform="translate(21.4 408.1) scale(0.85 1)" font-size="7.4" text-anchor="end">0.0</text>
<path class="tk" d="M27.1 377.86 h-2"/>
<text class="k" transform="translate(21.4 381.16) scale(0.85 1)" font-size="7.4" text-anchor="end">0.2</text>
<path class="tk" d="M27.1 350.92 h-2"/>
<text class="k" transform="translate(21.4 354.22) scale(0.85 1)" font-size="7.4" text-anchor="end">0.4</text>
<path class="tk" d="M27.1 323.98 h-2"/>
<text class="k" transform="translate(21.4 327.28) scale(0.85 1)" font-size="7.4" text-anchor="end">0.6</text>
<path class="tk" d="M27.1 297.04 h-2"/>
<text class="k" transform="translate(21.4 300.34) scale(0.85 1)" font-size="7.4" text-anchor="end">0.8</text>
<path class="tk" d="M27.1 270.1 h-2"/>
<text class="k" transform="translate(21.4 273.4) scale(0.85 1)" font-size="7.4" text-anchor="end">1.0</text>
</svg></body></html>
